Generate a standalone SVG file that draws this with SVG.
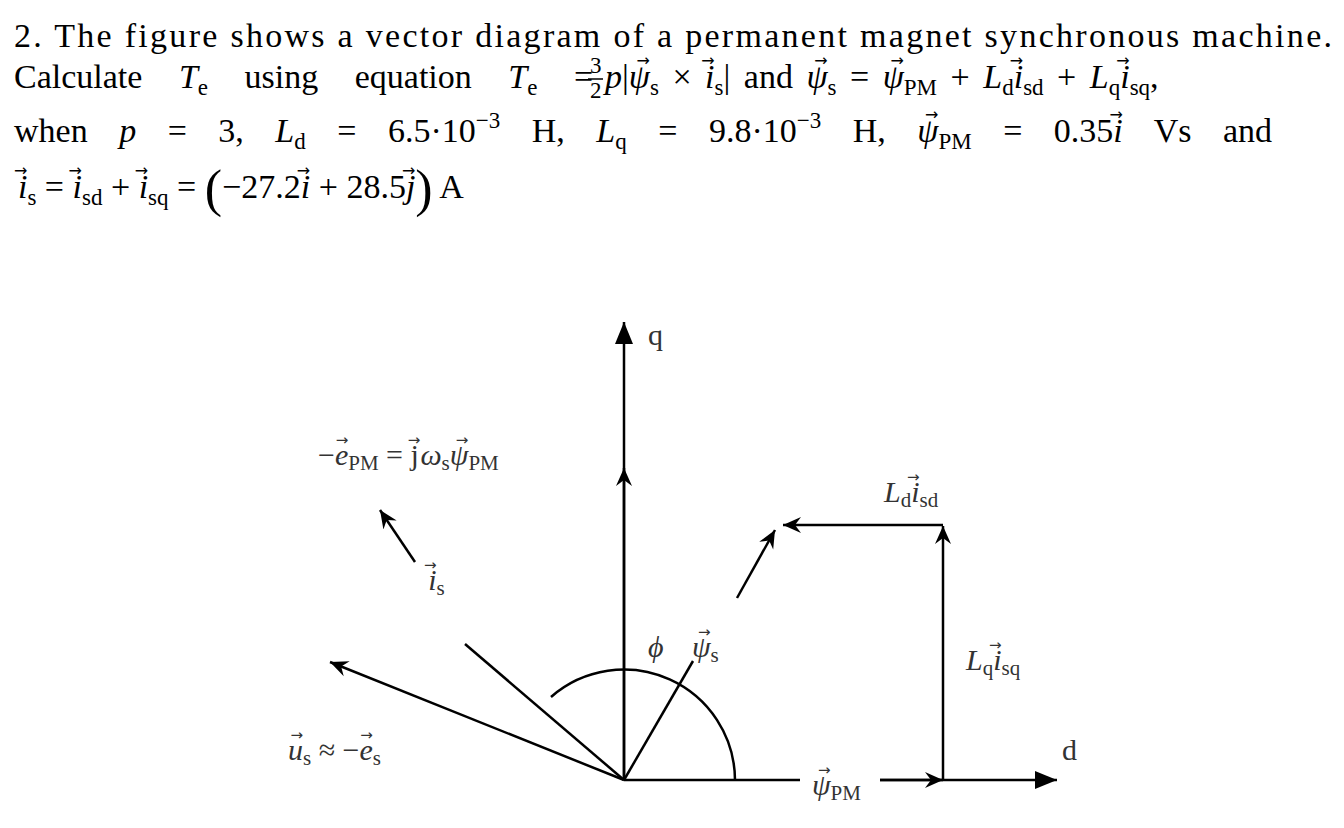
<svg xmlns="http://www.w3.org/2000/svg" width="1344" height="828" viewBox="0 0 1344 828">
<style>
.t{font-family:"Liberation Serif","DejaVu Serif",serif;font-size:34px;fill:#000}
.i{font-style:italic}
.s{font-size:23px}
.a{font-family:"DejaVu Sans",sans-serif;font-size:16px;font-style:normal}
.b{font-family:"DejaVu Sans",sans-serif;font-size:15px;font-style:normal}
.l{font-family:"Liberation Serif","DejaVu Serif",serif;font-size:30px;fill:#333}
.ln{stroke:#000;stroke-width:2.5;fill:none}
</style>
<defs>
<marker id="open" viewBox="0 0 20 20" refX="18" refY="10" markerWidth="20" markerHeight="20" markerUnits="userSpaceOnUse" orient="auto"><path d="M0,2 L18,10 L0,18 L6,10 Z" fill="#000"/></marker>
<marker id="fill" viewBox="0 0 24 20" refX="22" refY="10" markerWidth="24" markerHeight="20" markerUnits="userSpaceOnUse" orient="auto"><path d="M0,1 L22,10 L0,19 Z" fill="#000"/></marker>
</defs>
<g id="header">
<text class="t" x="14" y="47" textLength="1318" lengthAdjust="spacing">2. The figure shows a vector diagram of a permanent magnet synchronous machine.</text>
<text class="t" x="14" y="88" word-spacing="28">Calculate <tspan class="i">T</tspan><tspan class="s" dy="7">e</tspan><tspan dy="-7"> using equation </tspan><tspan class="i">T</tspan><tspan class="s" dy="7">e</tspan><tspan dy="-7"> =</tspan></text>
<text class="t s" x="590" y="73">3</text><line x1="588" y1="79" x2="603" y2="79" stroke="#000" stroke-width="1.5"/><text class="t s" x="590" y="98">2</text>
<text class="t" x="605" y="88" word-spacing="5"><tspan class="i">p</tspan>|<tspan class="i">ψ</tspan><tspan class="a" dx="-13.4" dy="-22">→</tspan><tspan class="s" dy="29">s</tspan><tspan dy="-7"> × </tspan><tspan class="i">i</tspan><tspan class="a" dx="-13.4" dy="-22">→</tspan><tspan class="s" dy="29">s</tspan><tspan dy="-7">| and </tspan><tspan class="i">ψ</tspan><tspan class="a" dx="-13.4" dy="-22">→</tspan><tspan class="s" dy="29">s</tspan><tspan dy="-7"> = </tspan><tspan class="i">ψ</tspan><tspan class="a" dx="-13.4" dy="-22">→</tspan><tspan class="s" dy="29">PM</tspan><tspan dy="-7"> + </tspan><tspan class="i">L</tspan><tspan class="s" dy="7">d</tspan><tspan class="i" dy="-7">i</tspan><tspan class="a" dx="-13.4" dy="-22">→</tspan><tspan class="s" dy="29">sd</tspan><tspan dy="-7"> + </tspan><tspan class="i">L</tspan><tspan class="s" dy="7">q</tspan><tspan class="i" dy="-7">i</tspan><tspan class="a" dx="-13.4" dy="-22">→</tspan><tspan class="s" dy="29">sq</tspan><tspan dy="-7">,</tspan></text>
<text class="t" x="14" y="142" word-spacing="23">when <tspan class="i">p</tspan> = 3, <tspan class="i">L</tspan><tspan class="s" dy="7">d</tspan><tspan dy="-7"> = 6.5·10</tspan><tspan class="s" dy="-14">−3</tspan><tspan dy="14"> H, </tspan><tspan class="i">L</tspan><tspan class="s" dy="7">q</tspan><tspan dy="-7"> = 9.8·10</tspan><tspan class="s" dy="-14">−3</tspan><tspan dy="14"> H, </tspan><tspan class="i">ψ</tspan><tspan class="a" dx="-13.4" dy="-22">→</tspan><tspan class="s" dy="29">PM</tspan><tspan dy="-7"> = 0.35</tspan><tspan class="i">i</tspan><tspan class="a" dx="-13.4" dy="-22">→</tspan><tspan dy="22"> Vs and</tspan></text>
<text class="t" x="14" y="198"><tspan class="i">i</tspan><tspan class="a" dx="-13.4" dy="-22">→</tspan><tspan class="s" dy="29">s</tspan><tspan dy="-7"> = </tspan><tspan class="i">i</tspan><tspan class="a" dx="-13.4" dy="-22">→</tspan><tspan class="s" dy="29">sd</tspan><tspan dy="-7"> + </tspan><tspan class="i">i</tspan><tspan class="a" dx="-13.4" dy="-22">→</tspan><tspan class="s" dy="29">sq</tspan><tspan dy="-7"> = </tspan><tspan font-size="52" dy="8">(</tspan><tspan dy="-8">−27.2</tspan><tspan class="i">i</tspan><tspan class="a" dx="-13.4" dy="-22">→</tspan><tspan dy="22"> + 28.5</tspan><tspan class="i">j</tspan><tspan class="a" dx="-13.4" dy="-22">→</tspan><tspan font-size="52" dy="30">)</tspan><tspan dy="-8"> A</tspan></text>
</g>
<g id="connectors">
<line class="ln" x1="624" y1="780" x2="624" y2="322" marker-end="url(#fill)"/>
<line class="ln" x1="624" y1="780" x2="624" y2="468" marker-end="url(#open)"/>
<line class="ln" x1="624" y1="780" x2="1057" y2="780" marker-end="url(#fill)"/>
<line class="ln" x1="880" y1="780" x2="943" y2="780" marker-end="url(#open)"/>
<line class="ln" x1="943" y1="780" x2="943" y2="526" marker-end="url(#open)"/>
<line class="ln" x1="943" y1="525" x2="783" y2="525" marker-end="url(#open)"/>
<line class="ln" x1="624" y1="780" x2="693" y2="661"/>
<line class="ln" x1="737" y1="598" x2="775" y2="530" marker-end="url(#open)"/>
<line class="ln" x1="624" y1="780" x2="465" y2="644"/>
<line class="ln" x1="415" y1="562" x2="380" y2="510" marker-end="url(#open)"/>
<line class="ln" x1="624" y1="780" x2="330" y2="662" marker-end="url(#open)"/>
<path class="ln" d="M735,780 A111,111 0 0 0 551,697"/>
</g>
<g id="labels">
<rect x="800" y="770" width="80" height="20" fill="#fff"/>
<text class="l" x="648" y="345" fill="#000">q</text>
<text class="l" x="1062" y="760">d</text>
<text class="l" x="318" y="465">−<tspan class="i">e</tspan><tspan class="b" dx="-12.6" dy="-20">→</tspan><tspan font-size="21" dy="25">PM</tspan><tspan dy="-5"> = j</tspan><tspan class="b" dx="-11" dy="-20">→</tspan><tspan class="i" dy="20">ω</tspan><tspan font-size="21" dy="5">s</tspan><tspan class="i" dy="-5">ψ</tspan><tspan class="b" dx="-12.6" dy="-20">→</tspan><tspan font-size="21" dy="25">PM</tspan></text>
<text class="l" x="884" y="502"><tspan class="i">L</tspan><tspan font-size="21" dy="5">d</tspan><tspan class="i" dy="-5">i</tspan><tspan class="b" dx="-12.6" dy="-20">→</tspan><tspan font-size="21" dy="25">sd</tspan></text>
<text class="l" x="966" y="670"><tspan class="i">L</tspan><tspan font-size="21" dy="5">q</tspan><tspan class="i" dy="-5">i</tspan><tspan class="b" dx="-12.6" dy="-20">→</tspan><tspan font-size="21" dy="25">sq</tspan></text>
<text class="l" x="424" y="590"><tspan class="i">i</tspan><tspan class="b" dx="-12.6" dy="-20">→</tspan><tspan font-size="21" dy="25">s</tspan></text>
<text class="l i" x="648" y="657">ϕ</text>
<text class="l" x="692" y="657"><tspan class="i">ψ</tspan><tspan class="b" dx="-12.6" dy="-20">→</tspan><tspan font-size="21" dy="25">s</tspan></text>
<text class="l" x="288" y="760"><tspan class="i">u</tspan><tspan class="b" dx="-12.6" dy="-20">→</tspan><tspan font-size="21" dy="25">s</tspan><tspan dy="-5"> ≈ −</tspan><tspan class="i">e</tspan><tspan class="b" dx="-12.6" dy="-20">→</tspan><tspan font-size="21" dy="25">s</tspan></text>
<text class="l" x="812" y="795"><tspan class="i">ψ</tspan><tspan class="b" dx="-12.6" dy="-20">→</tspan><tspan font-size="21" dy="25">PM</tspan></text>
</g>
</svg>
